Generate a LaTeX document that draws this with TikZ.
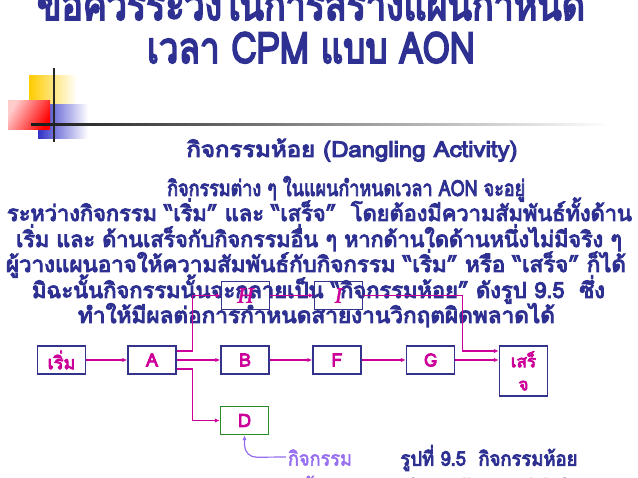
\documentclass[tikz,border=0pt]{standalone}
\usepackage{graphicx}
\usepackage{fontspec}
\setmainfont[Script=Thai]{Loma}
\newfontfamily\hv[Script=Thai,FakeBold=4.5]{Loma}
\newfontfamily\hvm[Script=Thai,FakeBold=2.5]{Loma}
\newfontfamily\hvi[Script=Thai,FakeBold=2]{Liberation Serif}
\usetikzlibrary{arrows.meta}
\definecolor{tblue}{RGB}{46,49,146}
\definecolor{bblue}{RGB}{51,51,140}
\definecolor{mag}{RGB}{204,0,153}
\definecolor{dgreen}{RGB}{40,140,40}
\definecolor{lav}{RGB}{150,110,240}
\definecolor{yel}{RGB}{255,204,0}
\definecolor{rbl}{RGB}{50,50,200}
\newsavebox\fitbox
\newcommand{\fitx}[2]{\sbox\fitbox{#2}\pgfmathsetmacro\fitsx{#1/\the\wd\fitbox}\scalebox{\fitsx}[1]{\usebox\fitbox}}
\tikzset{
  ttl/.style={text=tblue, font=\hv\fontsize{43}{43}\selectfont, inner sep=0, anchor=base},
  para/.style={text=tblue, font=\hv\fontsize{22}{22}\selectfont, inner sep=0, anchor=base},
  actbox/.style={draw=bblue, line width=1.5pt, minimum width=48pt, minimum height=28pt, inner sep=0,
    text=mag, font=\hv\fontsize{18}{18}\selectfont},
  arr/.style={draw=mag, line width=1.1pt, -{Latex[length=5pt,width=4.5pt]}},
  lavarr/.style={draw=lav, line width=1.2pt, -{Latex[length=5pt,width=4.5pt]}}
}
\begin{document}
\begin{tikzpicture}[x=1pt,y=-1pt]
\useasboundingbox (0,0) rectangle (638,478);
\clip (0,0) rectangle (638,478);
\fill[white] (0,0) rectangle (638,478);
% decoration
\shade[left color=yel, middle color=yel, right color=white] (29,76) rectangle (77,105);
\shade[left color=rbl, middle color=rbl!85, right color=white] (38,105) rectangle (88,139);
\shade[left color=red!20, right color=red, shading angle=60] (8,101) rectangle (50,130);
\draw[black!85, line width=1.3pt] (54,68) -- (54,142);
\shade[left color=black!90, right color=white] (31,123.2) rectangle (610,125.6);
% title
\node[ttl] (t1) at (311,20) {\fitx{548}{ข้อควรระวังในการสร้างแผนกำหนด}};
\node[ttl] (t2) at (311,63) {\fitx{328}{เวลา CPM แบบ AON}};
% subtitle and paragraph
\node[para] (sub) at (352,157) {\fitx{331}{กิจกรรมห้อย (Dangling Activity)}};
\node[para, anchor=base west] (p1) at (167,196) {\fitx{358}{กิจกรรมต่าง ๆ ในแผนกำหนดเวลา AON จะอยู่}};
\node[para] (p2) at (319.5,221) {\fitx{625}{ระหว่างกิจกรรม “เริ่ม” และ “เสร็จ”\ \ โดยต้องมีความสัมพันธ์ทั้งด้าน}};
\node[para] (p3) at (319,247) {\fitx{606}{เริ่ม และ ด้านเสร็จกับกิจกรรมอื่น ๆ หากด้านใดด้านหนึ่งไม่มีจริง ๆ}};
\node[para] (p4) at (316,272) {\fitx{620}{ผู้วางแผนอาจให้ความสัมพันธ์กับกิจกรรม “เริ่ม” หรือ “เสร็จ” ก็ได้}};
\node[para] (p5) at (318.5,298) {\fitx{573}{มิฉะนั้นกิจกรรมนั้นจะกลายเป็น “กิจกรรมห้อย” ดังรูป 9.5\ \ ซึ่ง}};
\node[para] (p6) at (316.5,323) {\fitx{477}{ทำให้มีผลต่อการกำหนดสายงานวิกฤตผิดพลาดได้}};
% activity boxes
\node[actbox] (st) at (61.5,360) {เริ่ม};
\node[actbox] (A) at (152,360) {A};
\node[actbox] (B) at (245,360) {B};
\node[actbox] (F) at (337,360) {F};
\node[actbox] (G) at (430.5,360) {G};
\node[actbox, minimum height=50pt, align=center, font=\hv\fontsize{17}{23}\selectfont] (fin) at (523.5,371) {เสร็\\จ};
\node[actbox, draw=dgreen] (D) at (244.5,420.5) {D};
\node[actbox, font=\hvi\itshape\fontsize{22}{22}\selectfont] (H) at (245.5,295.5) {H};
\node[actbox, font=\hvi\itshape\fontsize{22}{22}\selectfont] (I) at (338.5,295.5) {I};
% connectors
\draw[arr] (st) -- (A);
\draw[arr] (A) -- (B);
\draw[arr] (B) -- (F);
\draw[arr] (F) -- (G);
\draw[arr] (G) -- (G -| fin.west);
\draw[arr] ([yshift=9pt]A.east) -- ++(16,0) |- (H.west);
\draw[arr] ([yshift=-9pt]A.east) -- ++(16,0) |- (D.west);
\draw[arr] (H) -- (I);
\draw[arr] (I.east) -| ([xshift=-36pt,yshift=20pt]fin.west) -- ([yshift=20pt]fin.west);
% dangling label
\node[text=lav, font=\hvm\fontsize{20}{27}\selectfont, align=center, inner sep=0] (dang) at (320,471) {\fitx{64}{กิจกรรม}\\ห้อย};
\coordinate (cs) at (286,457);
\draw[lavarr] (cs) -- ([xshift=12pt,yshift=-22pt]D.south) to[out=180,in=-90] ([yshift=-10pt]D.south) -- (D.south);
% caption
\node[text=tblue, font=\hv\fontsize{20}{27}\selectfont, align=center, inner sep=0] (cap) at (489,471) {\fitx{177}{รูปที่ 9.5\ \ กิจกรรมห้อย}\\(Dangling Activity)};
\end{tikzpicture}
\end{document}
